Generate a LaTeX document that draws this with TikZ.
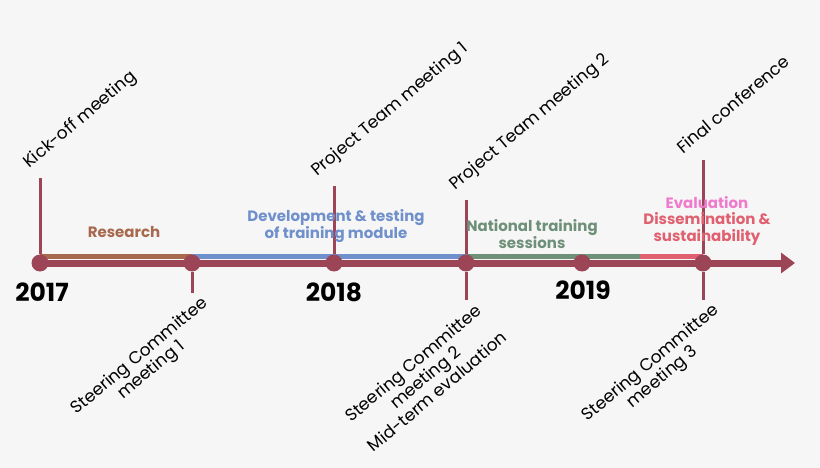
\documentclass[tikz,border=0pt]{standalone}
\usepackage{fontspec}
\setmainfont{Poppins}
\usetikzlibrary{arrows.meta}
\definecolor{axc}{HTML}{9B4556}
\definecolor{cbrown}{HTML}{A86A4F}
\definecolor{cblue}{HTML}{7090CC}
\definecolor{cgreen}{HTML}{6E8F78}
\definecolor{cred}{HTML}{E06070}
\definecolor{cpink}{HTML}{F07ACC}
\tikzset{dot/.style={circle,fill=axc,minimum size=17pt,inner sep=0pt},
 tick/.style={draw=axc,line width=3pt},
 lab/.style={rotate=40,font=\fontsize{17}{15}\selectfont,inner sep=1pt},
 band/.style={font=\fontsize{15}{17}\selectfont\bfseries,align=center,inner sep=0pt},
 year/.style={font=\fontsize{25}{25}\selectfont\bfseries}}
\begin{document}
\begin{tikzpicture}[x=1pt,y=-1pt]
\useasboundingbox[fill={rgb,255:red,246;green,246;blue,246}] (0,0) rectangle (820,468);
\draw[cbrown,line width=5pt] (40,256) -- (192,256);
\draw[cblue,line width=5pt] (192,256) -- (466,256);
\draw[cgreen,line width=5pt] (466,256) -- (640,256);
\draw[cred,line width=5pt] (640,256) -- (703,256);
\coordinate (s) at (36,263); \coordinate (e) at (795,263);
\draw[axc,line width=7pt,-{Triangle[length=14pt,width=20pt]}] (s) -- (e);
\node[dot] (d1) at (40,263) {};
\node[dot] (d2) at (192,263) {};
\node[dot] (d3) at (334,263) {};
\node[dot] (d4) at (466,263) {};
\node[dot] (d5) at (582,263) {};
\node[dot] (d6) at (703,263) {};
\coordinate (t1) at (40,178); \coordinate (t2) at (192,293);
\coordinate (t3u) at (334,186); \coordinate (t4u) at (466,200);
\coordinate (t4d) at (466,300); \coordinate (t6u) at (703,160);
\coordinate (t6d) at (703,300);
\draw[tick] (d1) -- (t1); \draw[tick] (d2) -- (t2); \draw[tick] (d3) -- (t3u);
\draw[tick] (d4) -- (t4u); \draw[tick] (d4) -- (t4d);
\draw[tick] (d6) -- (t6u); \draw[tick] (d6) -- (t6d);
\node[lab,anchor=south west] at ([xshift=-8pt,yshift=4pt]t1) {Kick-off meeting};
\node[lab,anchor=south west] at ([xshift=-14pt,yshift=4pt]t3u) {Project Team meeting 1};
\node[lab,anchor=south west] at ([xshift=-8pt,yshift=4pt]t4u) {Project Team meeting 2};
\node[lab,anchor=south west] at ([xshift=-20pt,yshift=4pt]t6u) {Final conference};
\node[lab,anchor=north east,align=center] at ([xshift=8pt]t2) {Steering Committee\\meeting 1};
\node[lab,anchor=north east,align=center] at ([xshift=10pt]t4d) {Steering Committee\\meeting 2\\Mid-term evaluation};
\node[lab,anchor=north east,align=center] at ([xshift=8pt]t6d) {Steering Committee\\meeting 3};
\node[band,text=cbrown] (b1) at (124,232) {Research};
\node[band,text=cblue] (b2) at (336,226) {Development \& testing\\of training module};
\node[band,text=cgreen] (b3) at (532,234) {National training\\sessions};
\node[band,text=cpink] (b4) at (707,203) {Evaluation};
\node[band,text=cred] (b5) at (707,229) {Dissemination \&\\sustainability};
\node[year] (y1) at (42,292) {2017};
\node[year] (y2) at (334,292) {2018};
\node[year] (y3) at (583,290) {2019};
\end{tikzpicture}
\end{document}
